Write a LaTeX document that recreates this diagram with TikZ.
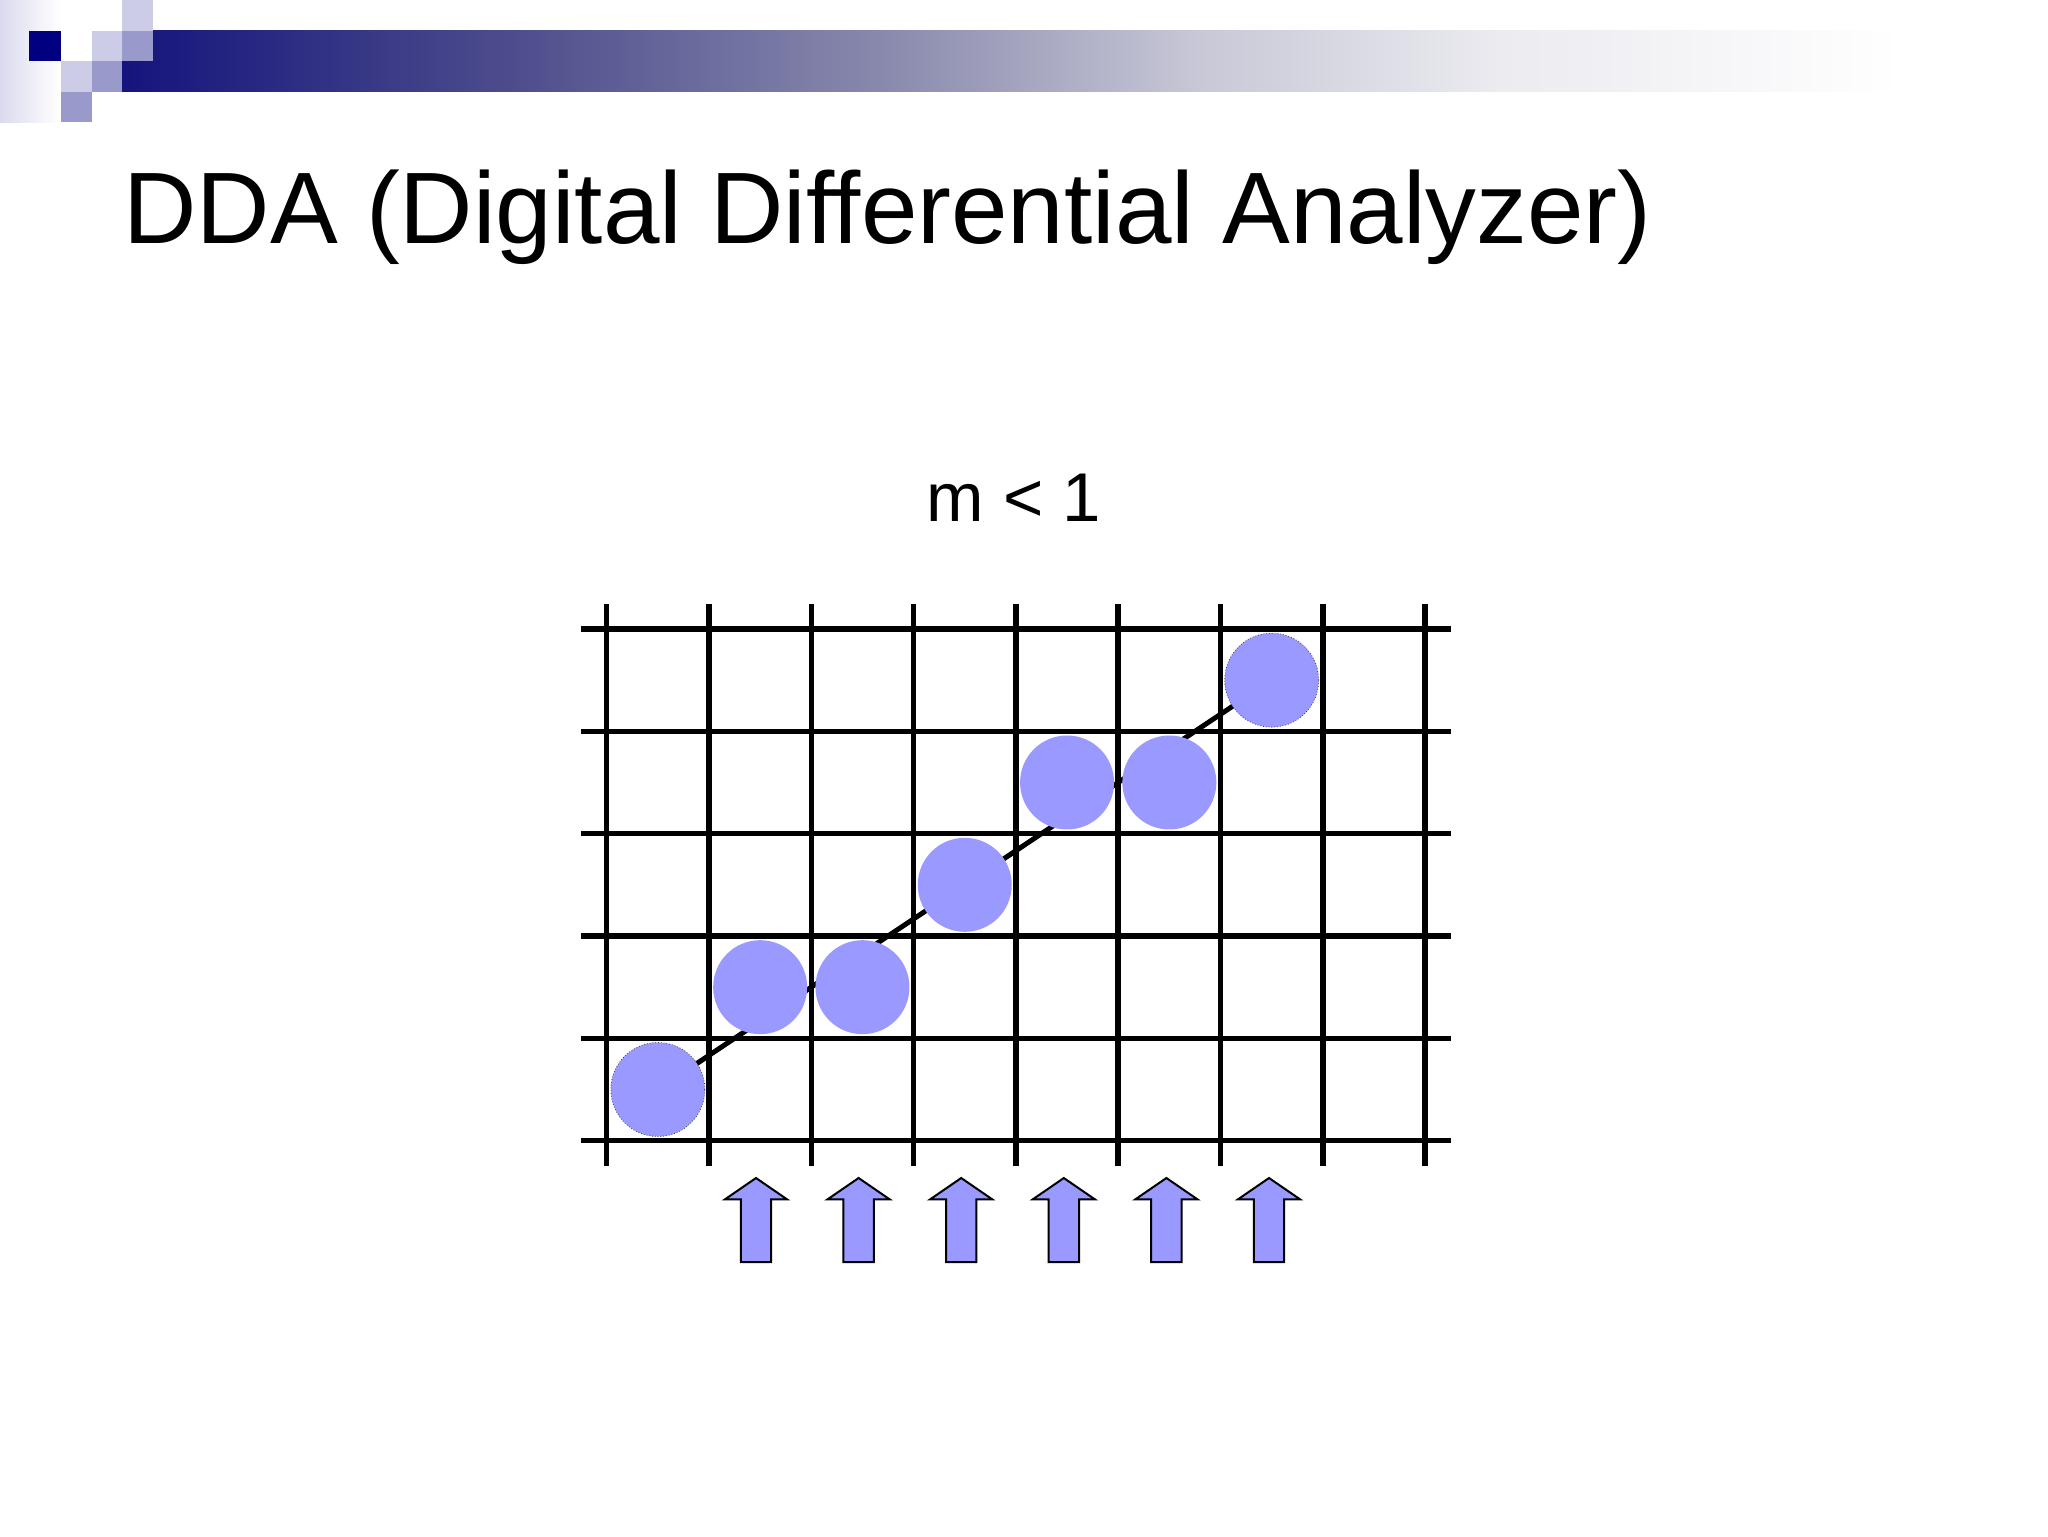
\documentclass[tikz,border=0pt]{standalone}
\usepackage{fontspec}
\setmainfont{Liberation Sans}
\definecolor{navysq}{RGB}{0,0,128}
\definecolor{lightsq}{RGB}{204,204,230}
\definecolor{medsq}{RGB}{153,153,204}
\definecolor{pixfill}{RGB}{153,153,255}
\definecolor{barA}{RGB}{20,20,125}
\definecolor{barB}{RGB}{75,75,140}
\definecolor{barC}{RGB}{140,140,175}
\definecolor{barD}{RGB}{200,200,215}
\definecolor{barE}{RGB}{235,235,240}
\definecolor{paleL}{RGB}{218,218,238}
\pgfdeclarehorizontalshading{barshade}{100bp}{color(0bp)=(barA); color(25bp)=(barA); color(34.81bp)=(barB); color(45.2bp)=(barC); color(52.99bp)=(barD); color(60.77bp)=(barE); color(71.16bp)=(white); color(100bp)=(white)}
\tikzset{
  gridline/.style={line width=2.75pt, black},
  pathline/.style={line width=2.5pt, black},
  pixel/.style={circle, fill=pixfill, minimum size=47pt, inner sep=0pt},
  endpixel/.style={pixel, draw=black!75, densely dotted, line width=0.4pt},
  blockarrow/.style={fill=pixfill, draw=black, line width=1pt, line join=miter},
  titletext/.style={anchor=base west, inner sep=0pt, font=\fontsize{50.8pt}{61pt}\selectfont},
  labeltext/.style={anchor=base west, inner sep=0pt, font=\fontsize{34.5pt}{41pt}\selectfont}
}
\begin{document}
\begin{tikzpicture}[x=0.5pt,y=-0.5pt]
\useasboundingbox (0,0) rectangle (2048,1536);
\fill[white] (0,0) rectangle (2048,1536);
% header decoration
\shade[left color=paleL, right color=white] (0,0) rectangle (60,122);
\shade[shading=barshade] (122,31) rectangle (2048,92);
\fill[navysq] (29,31) rectangle (61,61);
\fill[lightsq] (92,31) rectangle (122,61);
\fill[lightsq] (122,0) rectangle (153,31);
\fill[lightsq] (61,61) rectangle (92,92);
\fill[medsq] (122,31) rectangle (153,61);
\fill[medsq] (92,61) rectangle (122,92);
\fill[medsq] (61,92) rectangle (92,122);
% texts
\node[titletext] (title) at (123,243) {DDA (Digital Differential Analyzer)};
\node[labeltext] (slope) at (926.5,521) {m < 1};
% grid
\foreach \i in {0,...,8} {
  \draw[gridline] ({606.7+102.3*\i},604) -- ({606.7+102.3*\i},1166);
}
\foreach \j in {0,...,5} {
  \draw[gridline] (581,{629+102.34*\j}) -- (1451,{629+102.34*\j});
}
% pixel centres
\coordinate (c0) at ({657.85+102.3*0},{1089.5-102.34*0});
\coordinate (c1) at ({657.85+102.3*1},{1089.5-102.34*1});
\coordinate (c2) at ({657.85+102.3*2},{1089.5-102.34*1});
\coordinate (c3) at ({657.85+102.3*3},{1089.5-102.34*2});
\coordinate (c4) at ({657.85+102.3*4},{1089.5-102.34*3});
\coordinate (c5) at ({657.85+102.3*5},{1089.5-102.34*3});
\coordinate (c6) at ({657.85+102.3*6},{1089.5-102.34*4});
\draw[pathline] (c0) -- (c6);
\node[endpixel] (p0) at (c0) {};
\node[pixel] (p1) at (c1) {};
\node[pixel] (p2) at (c2) {};
\node[pixel] (p3) at (c3) {};
\node[pixel] (p4) at (c4) {};
\node[pixel] (p5) at (c5) {};
\node[endpixel] (p6) at (c6) {};
% step arrows
\foreach \k in {0,...,5} {
  \pgfmathsetmacro\cx{756+102.6*\k}
  \draw[blockarrow] ({\cx-15.2},1262) -- ({\cx+15.2},1262) -- ({\cx+15.2},1199.3) -- ({\cx+31},1199.3) -- (\cx,1178) -- ({\cx-31},1199.3) -- ({\cx-15.2},1199.3) -- cycle;
}
\end{tikzpicture}
\end{document}
